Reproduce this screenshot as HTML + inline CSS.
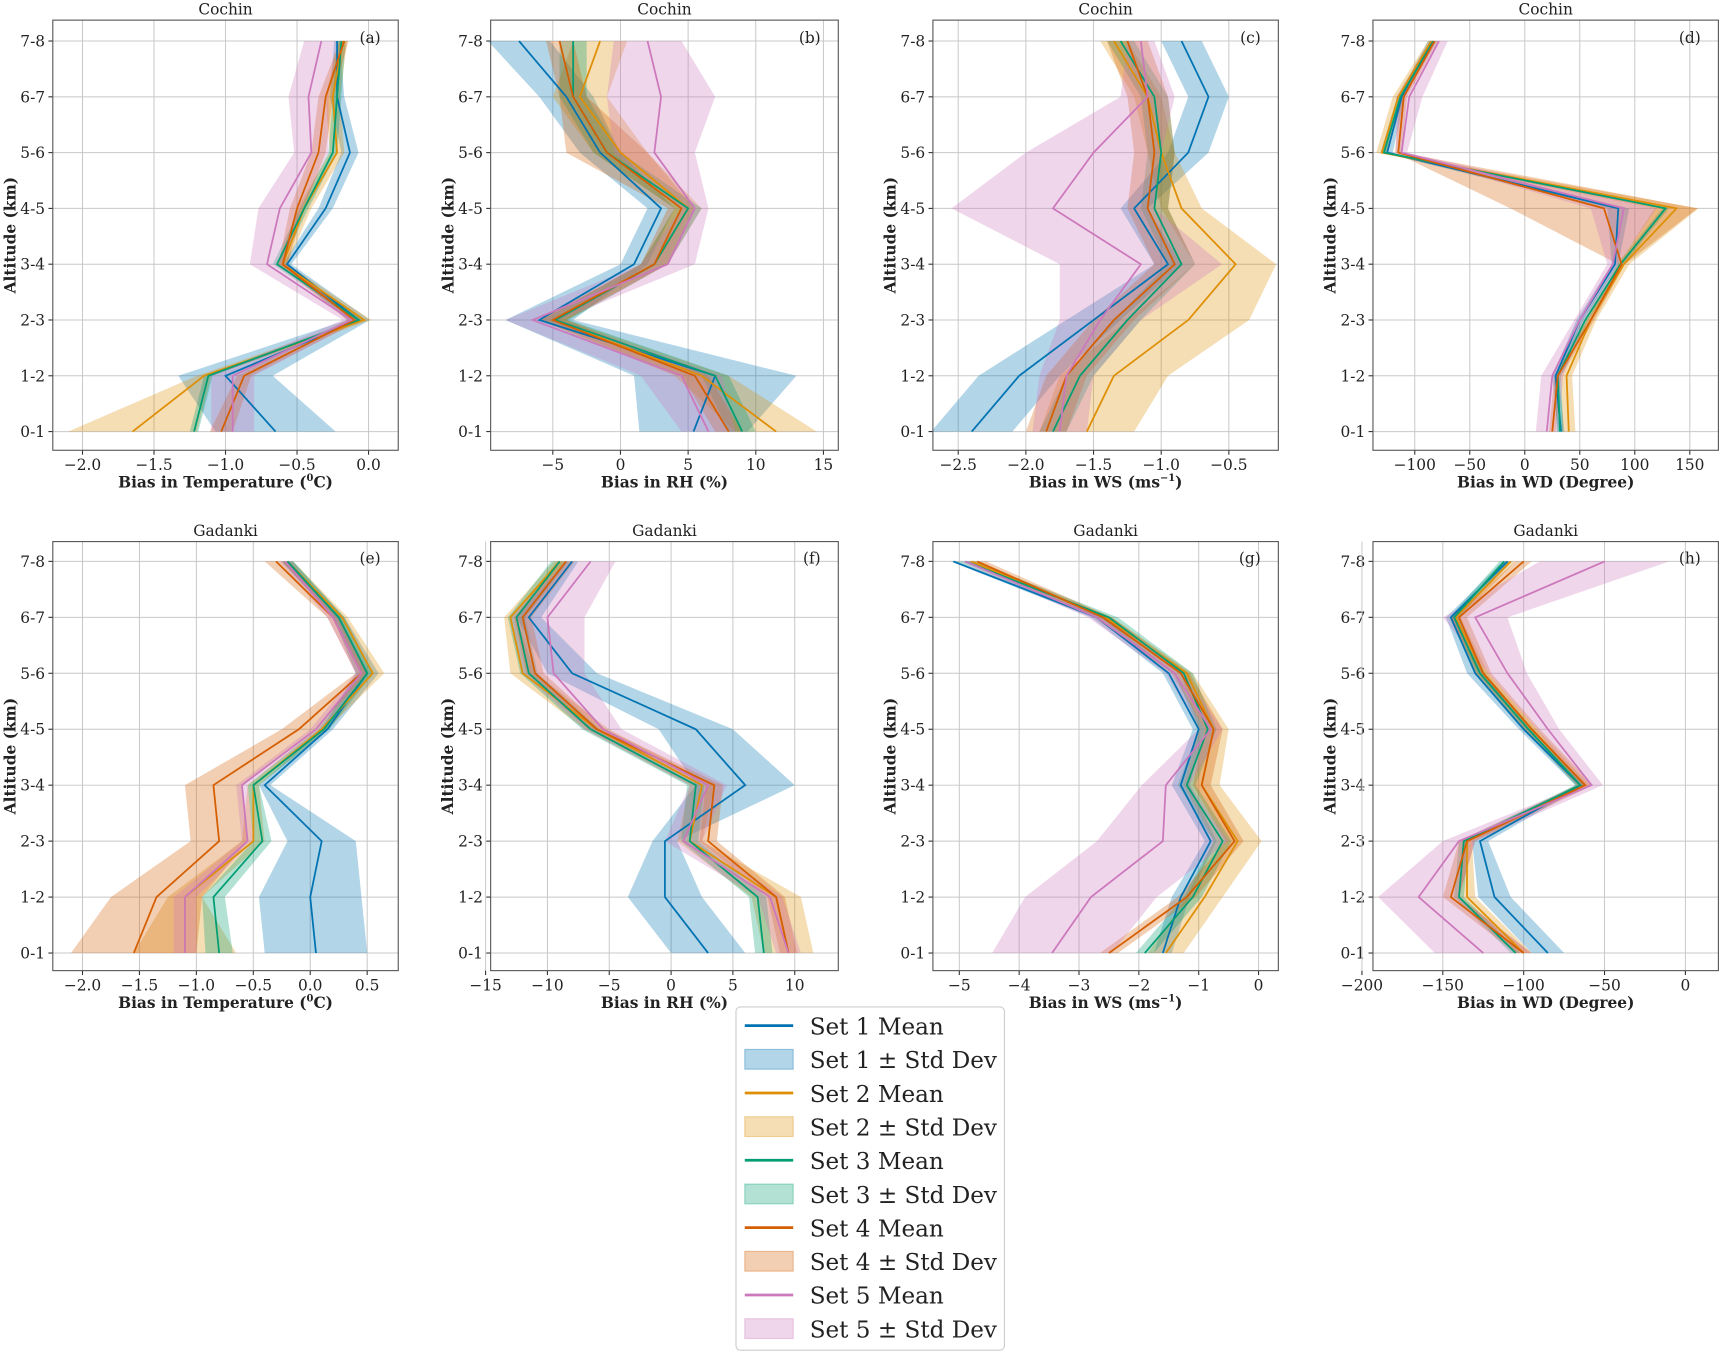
<!DOCTYPE html>
<html><head><meta charset="utf-8"><style>
html,body{margin:0;padding:0;background:#fff}
svg{display:block}
text{font-family:"DejaVu Serif","Liberation Serif",serif;fill:#222}
</style></head><body>
<svg id="s" width="1725" height="1356" viewBox="0 0 1568 1232" xmlns="http://www.w3.org/2000/svg"></svg>
<script>
const C=['#0173b2','#de8f05','#029e73','#d55e00','#cc78bc'];
const P=[
{x0:48,x1:362,row:0,t:'Cochin',lab:'(a)',xl:'Bias in Temperature (<tspan font-size="9" dy="-6">0</tspan><tspan dy="6">C)</tspan>',z:335,u:130,ticks:[-2,-1.5,-1,-0.5,0],fmt:v=>v.toFixed(1),
m:[[-0.65,-1.0,-0.07,-0.57,-0.3,-0.13,-0.22,-0.22],[-1.65,-1.15,-0.03,-0.6,-0.45,-0.22,-0.25,-0.18],[-1.22,-1.12,-0.07,-0.64,-0.45,-0.25,-0.22,-0.19],[-1.03,-0.87,-0.1,-0.6,-0.5,-0.35,-0.3,-0.17],[-0.95,-0.95,-0.12,-0.71,-0.62,-0.4,-0.42,-0.33]],
s:[[0.42,0.33,0.08,0.03,0.05,0.06,0.05,0.02],[0.45,0.05,0.05,0.03,0.05,0.05,0.05,0.03],[0.03,0.03,0.03,0.03,0.03,0.03,0.03,0.03],[0.08,0.05,0.05,0.03,0.05,0.05,0.05,0.03],[0.15,0.15,0.06,0.12,0.15,0.12,0.14,0.12]]},
{x0:446,x1:762,row:0,t:'Cochin',lab:'(b)',xl:'Bias in RH (%)',z:564,u:12.3,ticks:[-5,0,5,10,15],fmt:v=>''+v,
m:[[5.4,7,-6,1,3,-1.5,-4,-7.5],[11.5,6,-5,2.5,5,0,-3,-1.5],[9,7,-4.8,2.5,5,-1,-3.5,-3.5],[8,5.5,-5,2.5,4.5,-1,-3.5,-4.5],[6.5,4.5,-6.5,3.5,5.5,2.5,3,2]],
s:[[4,6,2.5,1,1,1.5,2,2.3],[3,2,1,1,1,2,2,2],[1,1,1,1,1,1,1,1],[1,1,1,1,1,3,1,1],[2,3,2,2,1,3,4,2.5]]},
{x0:848,x1:1162,row:0,t:'Cochin',lab:'(c)',xl:'Bias in WS (ms<tspan font-size="9" dy="-6">−1</tspan><tspan dy="6">)</tspan>',z:1178.5,u:123,ticks:[-2.5,-2,-1.5,-1,-0.5],fmt:v=>v.toFixed(1),
m:[[-2.4,-2.05,-1.5,-0.95,-1.2,-0.8,-0.65,-0.85],[-1.55,-1.35,-0.8,-0.45,-0.85,-1.0,-1.1,-1.35],[-1.8,-1.6,-1.25,-0.85,-1.05,-1.0,-1.05,-1.3],[-1.85,-1.7,-1.35,-0.9,-1.1,-1.05,-1.1,-1.25],[-1.75,-1.7,-1.45,-1.15,-1.8,-1.5,-1.1,-1.15]],
s:[[0.3,0.3,0.2,0.1,0.1,0.15,0.15,0.15],[0.35,0.4,0.45,0.3,0.15,0.1,0.1,0.1],[0.1,0.1,0.1,0.1,0.1,0.1,0.1,0.1],[0.15,0.15,0.15,0.15,0.15,0.15,0.15,0.15],[0.2,0.2,0.3,0.6,0.75,0.5,0.2,0.1]]},
{x0:1248,x1:1562,row:0,t:'Cochin',lab:'(d)',xl:'Bias in WD (Degree)',z:1386,u:1,ticks:[-100,-50,0,50,100,150],fmt:v=>''+v,
m:[[33,28,50,82,85,-125,-112,-85],[40,38,60,90,138,-130,-115,-85],[32,30,55,87,128,-128,-113,-83],[25,30,60,88,72,-115,-110,-82],[20,25,50,80,90,-112,-105,-78]],
s:[[3,3,3,3,10,5,3,3],[6,5,5,5,20,5,5,3],[3,3,3,3,3,3,3,3],[3,3,3,3,85,3,3,3],[10,10,5,5,30,5,12,8]]},
{x0:48,x1:362,row:1,t:'Gadanki',lab:'(e)',xl:'Bias in Temperature (<tspan font-size="9" dy="-6">0</tspan><tspan dy="6">C)</tspan>',z:282,u:103.5,ticks:[-2,-1.5,-1,-0.5,0,0.5],fmt:v=>v.toFixed(1),
m:[[0.05,0.0,0.1,-0.4,0.15,0.5,0.25,-0.2],[-1.1,-1.1,-0.5,-0.5,0.1,0.55,0.28,-0.2],[-0.8,-0.85,-0.42,-0.5,0.12,0.5,0.25,-0.2],[-1.55,-1.35,-0.8,-0.85,-0.1,0.45,0.2,-0.3],[-1.1,-1.1,-0.55,-0.6,0.05,0.45,0.2,-0.22]],
s:[[0.45,0.45,0.3,0.05,0.05,0.1,0.05,0.05],[0.45,0.15,0.1,0.05,0.05,0.1,0.05,0.05],[0.12,0.1,0.08,0.05,0.05,0.05,0.05,0.05],[0.55,0.4,0.25,0.25,0.15,0.05,0.05,0.1],[0.1,0.1,0.05,0.05,0.05,0.05,0.05,0.05]]},
{x0:446,x1:762,row:1,t:'Gadanki',lab:'(f)',xl:'Bias in RH (%)',z:610,u:11.24,ticks:[-15,-10,-5,0,5,10],fmt:v=>''+v,
m:[[3,-0.5,-0.5,6,2,-8,-11.5,-8],[9.5,8.5,1.5,2.5,-6,-12,-13,-9],[7.5,7,1.5,2,-6.5,-11.5,-12.5,-9],[9.5,8.5,3,3.5,-6,-11,-12,-8.5],[9.5,8,1,3,-5.5,-9.5,-10,-6.5]],
s:[[3,3,1,4,3,2,1,0.5],[2,2,1,1,1,1,0.5,0.5],[0.7,0.7,0.7,0.7,0.7,0.7,0.7,0.7],[0.7,0.7,0.7,0.7,0.7,0.7,0.7,0.7],[1,1,1.5,1.5,1.5,2.5,3,2]]},
{x0:848,x1:1162,row:1,t:'Gadanki',lab:'(g)',xl:'Bias in WS (ms<tspan font-size="9" dy="-6">−1</tspan><tspan dy="6">)</tspan>',z:1144,u:54.4,ticks:[-5,-4,-3,-2,-1,0],fmt:v=>''+v,
m:[[-1.6,-1.3,-0.8,-1.3,-1.0,-1.5,-2.7,-5.1],[-1.55,-0.9,-0.35,-0.95,-0.75,-1.2,-2.55,-4.8],[-1.9,-1.1,-0.6,-1.2,-0.85,-1.25,-2.5,-4.9],[-2.5,-1.2,-0.4,-0.95,-0.75,-1.3,-2.6,-4.7],[-3.45,-2.8,-1.6,-1.55,-0.8,-1.4,-2.7,-4.9]],
s:[[0.15,0.15,0.1,0.15,0.1,0.1,0.1,0.05],[0.3,0.3,0.4,0.3,0.25,0.1,0.1,0.1],[0.15,0.15,0.15,0.15,0.15,0.15,0.15,0.15],[0.15,0.15,0.15,0.15,0.15,0.15,0.15,0.15],[1.0,1.1,1.1,0.4,0.2,0.15,0.15,0.1]]},
{x0:1248,x1:1562,row:1,t:'Gadanki',lab:'(h)',xl:'Bias in WD (Degree)',z:1532,u:1.47,ticks:[-200,-150,-100,-50,0],fmt:v=>''+v,
m:[[-85,-118,-127,-65,-100,-130,-145,-110],[-100,-135,-135,-62,-95,-125,-142,-108],[-105,-140,-137,-65,-97,-127,-143,-112],[-100,-145,-135,-62,-95,-125,-140,-100],[-125,-165,-140,-58,-85,-110,-130,-50]],
s:[[10,10,5,3,3,5,3,3],[5,5,3,3,3,3,3,3],[3,3,3,3,3,3,3,3],[5,5,5,5,5,5,5,5],[30,25,10,7,7,12,20,40]]}
];
const lv=['0-1','1-2','2-3','3-4','4-5','5-6','6-7','7-8'];
let h='';
for(const p of P){
 const top=p.row?492:18,bot=p.row?882:409,y0=p.row?866:392,y7=p.row?510:37,dy=(y0-y7)/7;
 const Y=i=>y0-i*dy,X=v=>p.z+v*p.u;
 for(let i=0;i<8;i++){h+=`<line x1="${p.x0}" x2="${p.x1}" y1="${Y(i)}" y2="${Y(i)}" stroke="#c8c8c8" stroke-width="0.9"/>`;
  h+=`<text x="${p.x0-7}" y="${Y(i)+5}" font-size="14" text-anchor="end">${lv[i]}</text>`;
  h+=`<line x1="${p.x0-4}" x2="${p.x0}" y1="${Y(i)}" y2="${Y(i)}" stroke="#333"/>`;}
 for(const t of p.ticks){const x=X(t);h+=`<line x1="${x}" x2="${x}" y1="${top}" y2="${bot}" stroke="#c8c8c8" stroke-width="0.9"/>`;
  h+=`<line x1="${x}" x2="${x}" y1="${bot}" y2="${bot+4}" stroke="#333"/>`;
  h+=`<text x="${x}" y="${bot+18}" font-size="14" text-anchor="middle">${t<0?'−'+p.fmt(-t):p.fmt(t)}</text>`;}
 for(let k=0;k<5;k++){let a=[],b=[];for(let i=0;i<8;i++){a.push(X(p.m[k][i]-p.s[k][i]).toFixed(1)+','+Y(i).toFixed(1));b.unshift(X(p.m[k][i]+p.s[k][i]).toFixed(1)+','+Y(i).toFixed(1));}
  h+=`<polygon points="${a.concat(b).join(' ')}" fill="${C[k]}" fill-opacity="0.3"/>`;}
 for(let k=0;k<5;k++){let a=[];for(let i=0;i<8;i++)a.push(X(p.m[k][i]).toFixed(1)+','+Y(i).toFixed(1));
  h+=`<polyline points="${a.join(' ')}" fill="none" stroke="${C[k]}" stroke-width="1.6"/>`;}
 h+=`<rect x="${p.x0}" y="${top}" width="${p.x1-p.x0}" height="${bot-top}" fill="none" stroke="#555" stroke-width="1"/>`;
 const cx=(p.x0+p.x1)/2;
 h+=`<text x="${cx}" y="${top-5}" font-size="14" text-anchor="middle">${p.t}</text>`;
 h+=`<text x="${p.x1-16}" y="${y7+2}" font-size="14" text-anchor="end">${p.lab}</text>`;
 h+=`<text x="${cx}" y="${bot+34}" font-size="14" font-weight="bold" text-anchor="middle">${p.xl}</text>`;
 const my=(top+bot)/2,lx=p.x0-34;
 h+=`<text x="${lx}" y="${my}" font-size="14" font-weight="bold" text-anchor="middle" transform="rotate(-90 ${lx} ${my})">Altitude (km)</text>`;
}
h+=`<rect x="669" y="915" width="244" height="312" rx="4" fill="#fff" stroke="#ccc"/>`;
const L=['Set 1 Mean','Set 1 ± Std Dev','Set 2 Mean','Set 2 ± Std Dev','Set 3 Mean','Set 3 ± Std Dev','Set 4 Mean','Set 4 ± Std Dev','Set 5 Mean','Set 5 ± Std Dev'];
for(let i=0;i<10;i++){const y=932+i*30.6,k=i>>1;
 if(i%2==0)h+=`<line x1="677" x2="721" y1="${y}" y2="${y}" stroke="${C[k]}" stroke-width="2.5"/>`;
 else h+=`<rect x="677" y="${y-9}" width="44" height="18" fill="${C[k]}" fill-opacity="0.3" stroke="${C[k]}" stroke-opacity="0.35"/>`;
 h+=`<text x="736" y="${y+8}" font-size="21">${L[i]}</text>`;}
document.getElementById('s').innerHTML=h;
</script>
</body></html>
